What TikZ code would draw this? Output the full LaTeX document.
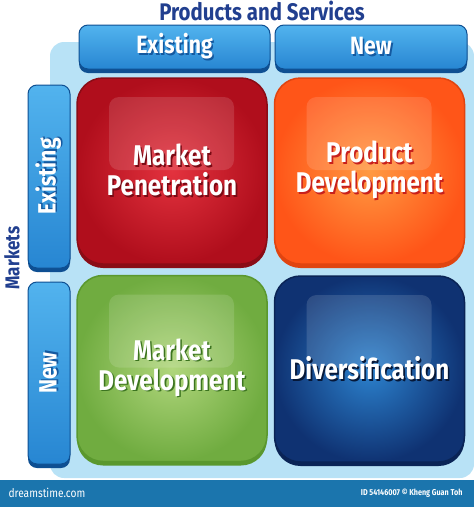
\documentclass[tikz,border=0pt]{standalone}
\usepackage{fontspec}
\setmainfont{Fira Sans}[FakeStretch=0.85]
\usetikzlibrary{calc,shadows}

\definecolor{titleblue}{HTML}{213F8F}
\definecolor{panelblue}{HTML}{B8E2F6}
\definecolor{bandblue}{HTML}{1B75AD}
\definecolor{headtop}{HTML}{52B3EE}
\definecolor{headbot}{HTML}{2786D2}
\definecolor{headedge}{HTML}{0E4F92}
\definecolor{headshade}{HTML}{1459A0}
% cell colours: edge, inner, outer, text shadow
\definecolor{penedge}{HTML}{8A0C16}
\definecolor{penin}{HTML}{E3323E}
\definecolor{penout}{HTML}{B00E1C}
\definecolor{penshade}{HTML}{7A0A14}
\definecolor{prodedge}{HTML}{E04410}
\definecolor{prodin}{HTML}{FF9A42}
\definecolor{prodout}{HTML}{FF5518}
\definecolor{prodshade}{HTML}{C8201C}
\definecolor{mdevedge}{HTML}{5A982E}
\definecolor{mdevin}{HTML}{B0D67C}
\definecolor{mdevout}{HTML}{70AC40}
\definecolor{mdevshade}{HTML}{3C7420}
\definecolor{divedge}{HTML}{0A2456}
\definecolor{divin}{HTML}{2C82CE}
\definecolor{divout}{HTML}{0F3272}
\definecolor{divshade}{HTML}{061838}

\newcommand\shadowed[2]{\rlap{\hspace{1.6pt}\raisebox{-1.6pt}{\color{#1}#2}}#2}

\tikzset{
  cell/.style={rounded corners=26pt, minimum width=190pt, minimum height=186pt,
    draw=#1edge, line width=1.5pt, inner color=#1in, outer color=#1out,
    drop shadow={shadow xshift=0pt, shadow yshift=-4pt, fill=#1edge, opacity=1},
    align=center, text=white, font=\fontsize{28.5}{30}\selectfont\bfseries,
    path picture={\fill[white, opacity=.13, rounded corners=10pt]
      ($(path picture bounding box.north west)+(32,19)$) rectangle
      ($(path picture bounding box.north east)+(-33,92)$);}},
  headbox/.style={rounded corners=9pt, draw=headedge, line width=1pt,
    top color=headtop, bottom color=headbot,
    drop shadow={shadow xshift=0pt, shadow yshift=-4pt, fill=headedge, opacity=1},
    text=white, font=\fontsize{25}{27}\selectfont\bfseries},
  axistext/.style={text=titleblue, font=\bfseries}
}

\begin{document}
\begin{tikzpicture}[x=1pt,y=-1pt]
\clip (0,0) rectangle (474,507);
\useasboundingbox (0,0) rectangle (474,507);
% background panel and footer band
\fill[panelblue, rounded corners=14pt] (50,42) rectangle (474,478);
\fill[bandblue] (0,480) rectangle (474,507);

\node[axistext, font=\fontsize{24}{26}\selectfont\bfseries] (title) at (262,11) {Products and Services};
\node[axistext, font=\fontsize{20}{22}\selectfont\bfseries, rotate=90] (markets) at (12,258) {Markets};

% column and row headers
\node[headbox, minimum width=191pt, minimum height=44pt] (hex) at (174.5,47) {\shadowed{headshade}{Existing}};
\node[headbox, minimum width=192pt, minimum height=44pt] (hnew) at (371,47) {\shadowed{headshade}{New}};
\node[headbox, minimum width=183pt, minimum height=42pt, rotate=90] (lex) at (49,176.5) {\shadowed{headshade}{Existing}};
\node[headbox, minimum width=182pt, minimum height=42pt, rotate=90] (lnew) at (49,373) {\shadowed{headshade}{New}};

% the four cells
\node[cell=pen] (pen) at (172,171) {\shadowed{penshade}{Market}\\\shadowed{penshade}{Penetration}};
\node[cell=prod] (prod) at (369.5,171) {\shadowed{prodshade}{Product}\\\shadowed{prodshade}{Development}};
\node[cell=mdev] (mdev) at (172,368.5) {\shadowed{mdevshade}{Market}\\\shadowed{mdevshade}{Development}};
\node[cell=div] (div) at (369.5,369) {\shadowed{divshade}{Diversification}};

% footer
\node[anchor=west, text=white, font=\fontsize{12}{14}\selectfont] (brand) at (5,493) {dreamstime.com};
\node[anchor=east, text=white, font=\fontsize{8.5}{10}\selectfont\bfseries] (credit) at (466,493) {ID 54146007 © Kheng Guan Toh};
\end{tikzpicture}
\end{document}
